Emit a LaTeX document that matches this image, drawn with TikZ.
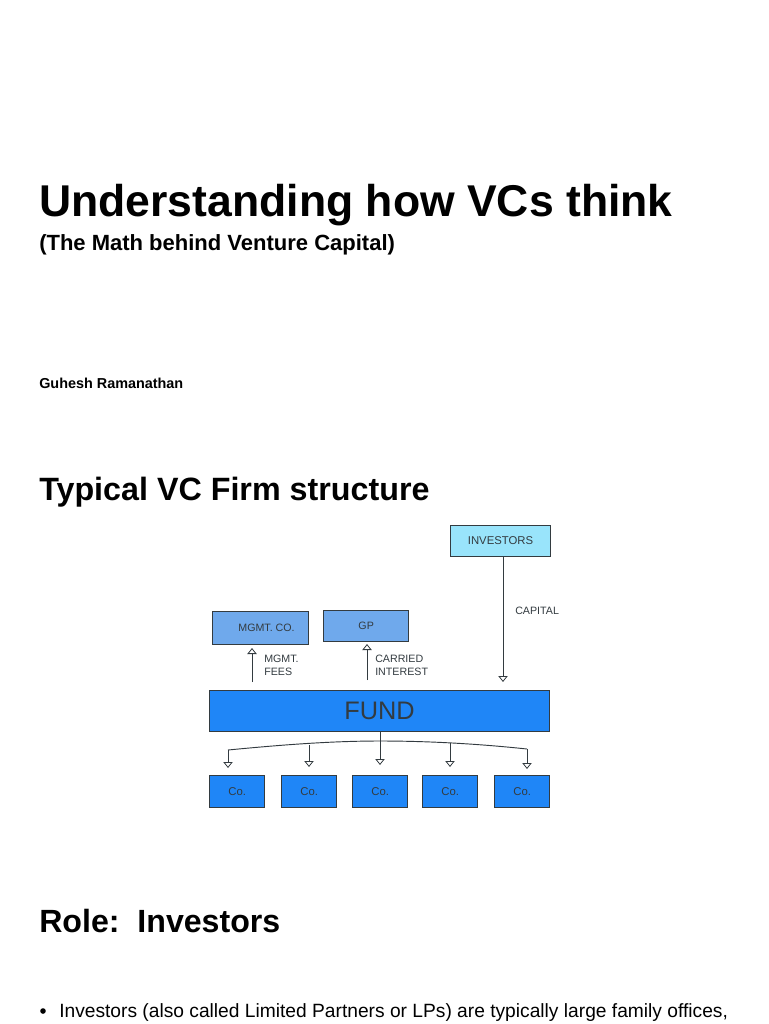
\documentclass[tikz,border=0pt]{standalone}
\usepackage{fontspec}
\setmainfont{Liberation Sans}
\usetikzlibrary{arrows.meta}
\definecolor{fundblue}{HTML}{1F86F7}
\definecolor{mgmtblue}{HTML}{6FA9EC}
\definecolor{investblue}{HTML}{99E4FB}
\definecolor{inkline}{HTML}{333B40}
\begin{document}
\begin{tikzpicture}[x=0.75pt,y=-0.75pt,
   title/.style={anchor=base west,inner sep=0pt,font=\bfseries},
   box/.style={draw=inkline,line width=0.8pt,inner sep=0pt,anchor=north west,text=inkline},
   hand/.style={font=\fontsize{8}{9.5}\selectfont,text=inkline,align=left,inner sep=0pt,anchor=west},
   link/.style={draw=inkline,line width=0.7pt},
   tip/.style={-{Triangle[open,length=4.5pt,width=7pt,line width=0.6pt]}}]
\useasboundingbox (0,0) rectangle (768,1024);
\fill[white] (0,0) rectangle (768,1024);
% headings
\node[title,font=\bfseries\fontsize{33.4}{36}\selectfont] (maintitle) at (39,216) {Understanding how VCs think};
\node[title,font=\bfseries\fontsize{16.5}{18}\selectfont] (subtitle) at (39,250) {(The Math behind Venture Capital)};
\node[title,font=\bfseries\fontsize{10.8}{12}\selectfont] (author) at (39,388) {Guhesh Ramanathan};
\node[title,font=\bfseries\fontsize{24.2}{28}\selectfont] (structure) at (39,500) {Typical VC Firm structure};
\node[title,font=\bfseries\fontsize{24.1}{28}\selectfont] (role) at (39,932) {Role:\ \ Investors};
% boxes
\node[box,fill=investblue,minimum width=75pt,minimum height=23pt] (investors) at (450,525) {\fontsize{8.5}{10}\selectfont INVESTORS};
\node[box,fill=mgmtblue,minimum width=72pt,minimum height=25pt] (mgmt) at (212,611) {\fontsize{8}{10}\selectfont\hspace*{9pt}MGMT. CO.};
\node[box,fill=mgmtblue,minimum width=64pt,minimum height=23.5pt] (gp) at (323,610) {\fontsize{8}{10}\selectfont GP};
\node[box,fill=fundblue,minimum width=255pt,minimum height=31pt] (fund) at (209,690) {\fontsize{19}{22}\selectfont FUND};
\foreach \name/\xpos in {coa/209,cob/281,coc/352,cod/422,coe/494}
  \node[box,fill=fundblue,minimum width=41.5pt,minimum height=24pt] (\name) at (\xpos,775) {\fontsize{8.5}{10}\selectfont Co.};
% labels
\node[hand] (fees) at (264,665) {MGMT.\\FEES};
\node[hand] (carried) at (375,665) {CARRIED\\INTEREST};
\node[hand] (capital) at (515,611) {CAPITAL};
% arrows up and down
\coordinate (feesfoot) at (252,682);
\coordinate (feeshead) at (252,648);
\coordinate (carryfoot) at (367,680);
\coordinate (carryhead) at (367,644);
\coordinate (capitalhead) at (503,682);
\draw[link,tip] (feesfoot) -- (feeshead);
\draw[link,tip] (carryfoot) -- (carryhead);
\draw[link,tip] (investors.south -| capitalhead) -- (capitalhead);
% tree under the fund
\coordinate (split) at (380,741);
\coordinate (lefta) at (228,750);
\coordinate (righte) at (527,749);
\draw[link] (fund.south -| split) -- (split);
\draw[link] (lefta) .. controls (280,745) and (330,741) .. (split) .. controls (430,741) and (480,744) .. (righte);
\draw[link,tip] (lefta) -- (228,768);
\draw[link,tip] (309,745) -- (309,767);
\draw[link,tip] (split) -- (380,765);
\draw[link,tip] (450,743) -- (450,767);
\draw[link,tip] (righte) -- (527,769);
% body text, cut by the page
\fill[black] (43,1011) circle (2.8);
\node[title,font=\fontsize{14.4}{17}\selectfont] (bullet) at (59,1017) {Investors (also called Limited Partners or LPs) are typically large family offices,};
\end{tikzpicture}
\end{document}
